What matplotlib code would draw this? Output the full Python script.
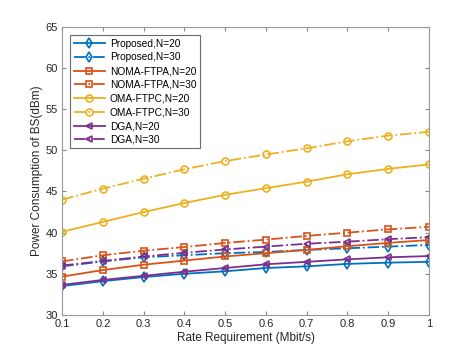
import numpy as np
import matplotlib
matplotlib.use("Agg")
import matplotlib.pyplot as plt

plt.rcParams['font.family'] = ['Liberation Sans', 'DejaVu Sans']

rate = [0.1, 0.2, 0.3, 0.4, 0.5, 0.6, 0.7, 0.8, 0.9, 1.0]

prop_20 = [33.5, 34.1, 34.6, 35.0, 35.3, 35.7, 35.9, 36.2, 36.35, 36.45]
prop_30 = [35.9, 36.5, 37.0, 37.25, 37.5, 37.65, 37.9, 38.1, 38.3, 38.5]
noma_20 = [34.65, 35.45, 36.1, 36.6, 37.1, 37.5, 37.9, 38.35, 38.75, 39.1]
noma_30 = [36.5, 37.25, 37.8, 38.25, 38.75, 39.15, 39.6, 40.0, 40.4, 40.7]
oma_20 = [40.1, 41.3, 42.5, 43.6, 44.6, 45.4, 46.2, 47.1, 47.75, 48.3]
oma_30 = [44.0, 45.35, 46.55, 47.7, 48.7, 49.5, 50.25, 51.1, 51.8, 52.25]
dga_20 = [33.65, 34.25, 34.75, 35.25, 35.7, 36.15, 36.45, 36.75, 37.0, 37.15]
dga_30 = [36.0, 36.55, 37.1, 37.55, 37.95, 38.3, 38.65, 38.9, 39.2, 39.45]

series = [
    ('Proposed,N=20', prop_20, '#0072BD', 'd', '-'),
    ('Proposed,N=30', prop_30, '#0072BD', 'd', '-.'),
    ('NOMA-FTPA,N=20', noma_20, '#D95319', 's', '-'),
    ('NOMA-FTPA,N=30', noma_30, '#D95319', 's', '-.'),
    ('OMA-FTPC,N=20', oma_20, '#EDB120', 'o', '-'),
    ('OMA-FTPC,N=30', oma_30, '#EDB120', 'o', '-.'),
    ('DGA,N=20', dga_20, '#7E2F8E', '<', '-'),
    ('DGA,N=30', dga_30, '#7E2F8E', '<', '-.'),
]

fig = plt.figure(figsize=(4.74, 3.55), dpi=100)
ax = fig.add_axes([0.131, 0.113, 0.774, 0.811])

for name, vals, col, mk, ls in series:
    ax.plot(rate, vals, color=col, marker=mk, linestyle=ls, linewidth=1.3,
            markersize=5, markerfacecolor='none', markeredgewidth=1.2, label=name)

ax.set_xlim(0.1, 1)
ax.set_ylim(30, 65)
ax.set_xticks(rate)
ax.set_xticklabels(['0.1', '0.2', '0.3', '0.4', '0.5', '0.6', '0.7', '0.8', '0.9', '1'])
ax.set_yticks(np.arange(30, 66, 5))
ax.tick_params(direction='in', top=True, right=True, labelsize=8, length=3,
               color='#888888', labelcolor='#262626', pad=3)
for s in ax.spines.values():
    s.set_color('#999999')
    s.set_linewidth(0.8)

ax.set_xlabel('Rate Requirement (Mbit/s)', fontsize=8.5, color='#262626', labelpad=2)
ax.set_ylabel('Power Consumption of BS(dBm)', fontsize=8.5, color='#262626', labelpad=2)

leg = ax.legend(loc='upper left', bbox_to_anchor=(0.022, 0.972), fontsize=7.3,
                frameon=True, fancybox=False, borderpad=0.35, labelspacing=0.37,
                handlelength=3.1, handletextpad=0.45, borderaxespad=0)
leg.get_frame().set_edgecolor('#444444')
leg.get_frame().set_linewidth(0.8)

fig.savefig('out.png', dpi=100)
